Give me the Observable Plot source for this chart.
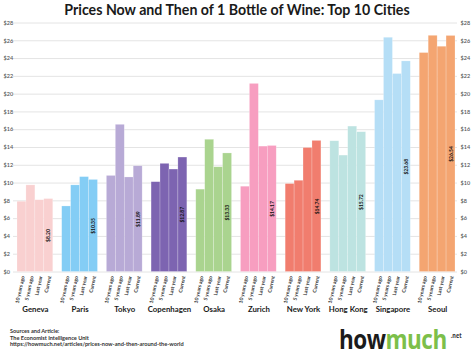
<!DOCTYPE html>
<html>
<head>
<meta charset="utf-8">
<script src="https://cdn.jsdelivr.net/npm/d3@7"></script>
<script src="https://cdn.jsdelivr.net/npm/@observablehq/plot@0.6"></script>
<style>
  html, body { margin: 0; padding: 0; background: #fff; }
  #wrap { position: relative; width: 474px; height: 357px; overflow: hidden; font-family: Lato, "Open Sans", sans-serif; }
  #chart { position: absolute; left: 0; top: 0; }
  #title { position: absolute; left: 0; width: 474px; top: 1px; text-align: center; font-weight: 700; font-size: 14.2px; color: #1a1a1a; }
  #source { position: absolute; left: 10px; top: 328px; font-size: 5.6px; line-height: 6.7px; font-weight: 700; color: #333; }
  #logo { position: absolute; left: 339px; top: 321px; font-family: "Open Sans", sans-serif; font-weight: 700; font-size: 22.5px; letter-spacing: -0.5px; transform: scaleY(1.15); transform-origin: left top; white-space: nowrap; }
  #logo .how { color: #1b1b1b; }
  #logo .much { color: #7cbf4a; }
  #logo .net { font-size: 5.5px; color: #333; vertical-align: 9px; margin-left: 4px; letter-spacing: 0; }
</style>
</head>
<body>
<div id="wrap">
  <div id="chart"></div>
  <div id="title">Prices Now and Then of 1 Bottle of Wine: Top 10 Cities</div>
  <div id="source">Sources and Article:<br>The Economist Intelligence Unit<br>https://howmuch.net/articles/prices-now-and-then-around-the-world</div>
  <div id="logo"><span class="how">how</span><span class="much">much</span><span class="net">.net</span></div>
</div>
<script>
const cities = ["Geneva", "Paris", "Tokyo", "Copenhagen", "Osaka", "Zurich", "New York", "Hong Kong", "Singapore", "Seoul"];
const periods = ["10 years ago", "5 years ago", "Last year", "Current"];
const tenYearsAgo = [7.9, 7.37, 10.8, 10.1, 9.26, 9.59, 9.89, 14.7, 19.3, 24.62];
const fiveYearsAgo = [9.74, 9.74, 16.55, 12.16, 14.87, 21.15, 10.26, 13.09, 26.34, 26.56];
const lastYear = [8.07, 10.67, 10.63, 11.52, 11.78, 14.1, 13.94, 16.35, 22.26, 25.33];
const current = [8.20, 10.35, 11.89, 12.87, 13.33, 14.17, 14.74, 15.72, 23.68, 26.54];
const currentLabels = ["$8.20", "$10.35", "$11.89", "$12.87", "$13.33", "$14.17", "$14.74", "$15.72", "$23.68", "$26.54"];
const colors = ["#f9d0d0", "#84cdf5", "#b8aad6", "#7d64b1", "#aad48f", "#f79ec0", "#f17d6e", "#bde3e1", "#b5def6", "#f4a571"];
const yTicks = [0, 2, 4, 6, 8, 10, 12, 14, 16, 18, 20, 22, 24, 26, 28];
const yTickLabels = ["$0", "$2", "$4", "$6", "$8", "$10", "$12", "$14", "$16", "$18", "$20", "$22", "$24", "$26", "$28"];

const series = [tenYearsAgo, fiveYearsAgo, lastYear, current];
const key = (c, p) => c + "|" + p;
const data = cities.flatMap((c, i) => periods.map((p, j) => ({city: c, period: p, key: key(c, p), value: series[j][i]})));
const domain = cities.flatMap((c, i) => {
  const ks = periods.map(p => key(c, p));
  return i < cities.length - 1 ? [...ks, key(c, "gap")] : ks;
});
const labelsData = cities.map((c, i) => ({key: key(c, "Current"), value: current[i], label: currentLabels[i]}));
const yData = yTicks.map((v, i) => ({v, label: yTickLabels[i]}));

const chart = Plot.plot({
  width: 474,
  height: 357,
  marginTop: 22.5,
  marginBottom: 85.5,
  marginLeft: 17,
  marginRight: 19,
  style: {fontFamily: "Lato, 'Open Sans', sans-serif", background: "transparent"},
  x: {type: "band", domain, padding: 0, axis: null},
  y: {domain: [0, 28], axis: null},
  color: {domain: cities, range: colors},
  marks: [
    Plot.ruleY(yTicks, {stroke: "#e4e4e4", strokeWidth: 1, insetLeft: -4, insetRight: -2}),
    Plot.barY(data, {x: "key", y: "value", fill: "city", stroke: "#ffffff", strokeOpacity: 0.35, strokeWidth: 0.6}),
    Plot.text(yData, {y: "v", text: "label", frameAnchor: "left", dx: -14, textAnchor: "start", fontSize: 5.5, fill: "#555", fontWeight: 600}),
    Plot.text(yData, {y: "v", text: "label", frameAnchor: "right", dx: 5, textAnchor: "start", fontSize: 5.5, fill: "#555", fontWeight: 600}),
    Plot.text(data, {x: "key", y: () => 0, text: "period", rotate: -78, textAnchor: "end", lineAnchor: "middle", dy: 4, dx: 1, fontSize: 5, fontWeight: 700, fill: "#333", clip: false}),
    Plot.text(cities, {x: c => key(c, "5 years ago"), y: () => 0, text: d => d, lineAnchor: "middle", dx: 4.5, dy: 37, fontSize: 7.8, fontWeight: 700, fill: "#1a1a1a"}),
    Plot.text(labelsData, {x: "key", y: d => d.value / 2, text: "label", rotate: -90, fontSize: 5, fontWeight: 700, fill: "#111"})
  ]
});
document.getElementById("chart").appendChild(chart);
</script>
</body>
</html>
